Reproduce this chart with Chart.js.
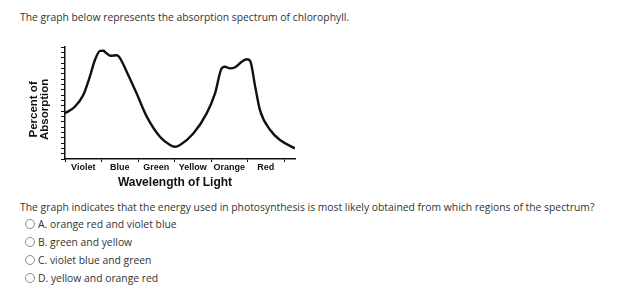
<!DOCTYPE html>
<html>
<head>
<meta charset="utf-8">
<script src="https://cdn.jsdelivr.net/npm/chart.js@4"></script>
<style>
  body { margin: 0; background: #fff; width: 632px; height: 299px; position: relative; overflow: hidden; }
  .txt { position: absolute; font-family: "Open Sans", sans-serif; font-size: 10.35px; line-height: 12px; color: #333; white-space: nowrap; }
  .radio { position: absolute; width: 8px; height: 8px; border: 1px solid #8a8a8a; border-radius: 50%; background: #fff; }
  #wrap { position: absolute; left: 0; top: 40px; width: 310px; height: 150px; }
</style>
</head>
<body>
<div class="txt" style="left:20px; top:11px;">The graph below represents the absorption spectrum of chlorophyll.</div>
<div id="wrap"><canvas id="myChart" width="310" height="150"></canvas></div>
<div class="txt" style="left:20px; top:201px;">The graph indicates that the energy used in photosynthesis is most likely obtained from which regions of the spectrum?</div>
<div id="options"></div>
<script>
(function(){
// categories between the x tick marks
const colours = ['Violet', 'Blue', 'Green', 'Yellow', 'Orange', 'Red'];
// curve: x in colour bands (1 band = 1 unit), y in percent of absorption
const wavelength = [0, 0.27, 0.5, 0.68, 0.82, 0.96, 1.05, 1.12, 1.25, 1.42, 1.51, 1.69, 1.96, 2.24, 2.6, 2.88, 3.01, 3.15, 3.52, 3.88, 4.11, 4.29, 4.38, 4.52, 4.66, 4.84, 4.98, 5.07, 5.21, 5.34, 5.62, 5.89, 6.3];
const absorption = [42.8, 49, 60, 77.2, 92.8, 101.3, 101.5, 99.7, 96.8, 97.2, 94.4, 81.8, 61.6, 39.7, 20.9, 13.1, 11.5, 13.1, 24.1, 42.8, 61.6, 85, 86.5, 85, 86, 91.2, 93.5, 92.2, 67.8, 45.9, 27.2, 17.8, 10];
const answers = ['A. orange red and violet blue', 'B. green and yellow', 'C. violet blue and green', 'D. yellow and orange red'];

const opts = document.getElementById('options');
answers.forEach((a, i) => {
  const top = 218 + i * 18;
  opts.insertAdjacentHTML('beforeend',
    '<span class="radio" style="left:25px; top:' + (top + 1) + 'px;"></span>' +
    '<div class="txt" style="left:38px; top:' + top + 'px;">' + a + '</div>');
});

const font = 'Liberation Sans, Arial, sans-serif';

const config = (data) => ({
  type: 'line',
  data: data,
  options: {
    responsive: false,
    animation: false,
    devicePixelRatio: 1,
    layout: { padding: { top: 7, right: 15, bottom: 0, left: 0 } },
    plugins: { legend: { display: false }, tooltip: { enabled: false } },
    elements: { point: { radius: 0 } },
    scales: {
      x: {
        type: 'linear',
        min: 0,
        max: 6.3,
        afterBuildTicks: (s) => { s.ticks = colours.map((c, i) => ({ value: i + 0.5 })); },
        afterFit: (s) => { s.height = 31; },
        ticks: {
          padding: 0,
          color: '#111',
          font: { family: font, size: 9, weight: 'bold' },
          callback: (v, i) => colours[i]
        },
        grid: { offset: true, drawOnChartArea: false, tickLength: 3, color: '#111', lineWidth: 1 },
        border: { color: '#111', width: 1.5 },
        title: {
          display: true,
          // trailing spaces pull the title a little left, as in the picture
          text: 'Wavelength of Light   ',
          color: '#111',
          padding: { top: 0, bottom: 0 },
          font: { family: font, size: 12, weight: 'bold' }
        }
      },
      y: {
        min: 0,
        max: 105,
        afterBuildTicks: (s) => { s.ticks = []; for (let v = 0; v <= 105; v += 5) s.ticks.push({ value: v }); },
        afterFit: (s) => { s.width = 65; },
        ticks: { display: false },
        grid: { drawOnChartArea: false, tickLength: 4, color: '#111', lineWidth: 1 },
        border: { color: '#111', width: 1.5 },
        title: {
          display: true,
          text: ['Percent of    ', 'Absorption    '],
          color: '#111',
          padding: { top: 28, bottom: 0 },
          font: { family: font, size: 11.5, weight: 'bold', lineHeight: 1 }
        }
      }
    }
  }
});

function init(ctx) {
  const points = wavelength.map((x, i) => ({ x: x, y: absorption[i] }));
  new Chart(ctx, config({
    datasets: [{
      data: points,
      borderColor: '#111',
      borderWidth: 2.4,
      tension: 0.4,
      cubicInterpolationMode: 'monotone',
      fill: false
    }]
  }));
}

init(document.getElementById('myChart'));
})();
</script>
</body>
</html>
